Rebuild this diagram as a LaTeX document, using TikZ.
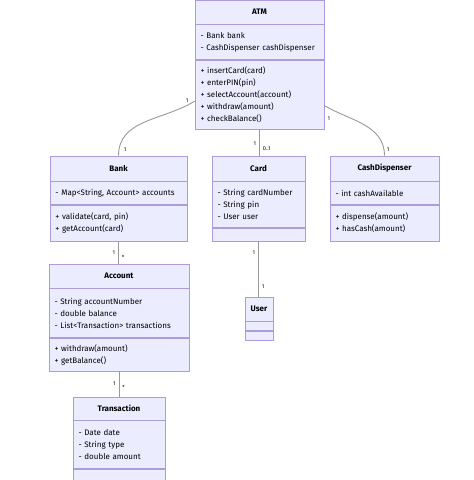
\documentclass[tikz,border=0pt]{standalone}
\usepackage{fontspec}
\setmainfont{Fira Sans}
\usetikzlibrary{positioning}
\definecolor{umlfill}{HTML}{ECECFF}
\definecolor{umlline}{HTML}{AC9CDE}
\definecolor{relline}{HTML}{999999}

\begin{document}
\begin{tikzpicture}[
  x=1pt, y=1pt,
  font=\fontsize{8}{12}\selectfont,
  node distance=0pt,
  cls/.style={draw=umlline, fill=umlfill, line width=0.55pt},
  hdr/.style={cls, font=\fontsize{8}{12}\selectfont\bfseries, inner sep=0pt},
  cmp/.style={cls, align=left, inner xsep=5.5pt, inner ysep=0pt},
  rel/.style={draw=relline, line width=0.9pt},
  mult/.style={font=\fontsize{5.5}{6}\selectfont, inner sep=1pt}
]
  \clip (0,0) rectangle (474,480);
  \fill[white] (0,0) rectangle (474,480);

  % ATM
  \node[hdr, minimum width=129pt, minimum height=24pt] (atm) at (259.5,468) {ATM};
  \node[cmp, text width=118pt, minimum height=35pt, below=of atm] (atm-a) {- Bank bank\\- CashDispenser cashDispenser};
  \node[cmp, text width=118pt, minimum height=69pt, below=of atm-a] (atm-m) {+ insertCard(card)\\+ enterPIN(pin)\\+ selectAccount(account)\\+ withdraw(amount)\\+ checkBalance()};

  % Bank
  \node[hdr, minimum width=137pt, minimum height=25pt] (bank) at (118.5,311.5) {Bank};
  \node[cmp, text width=126pt, minimum height=23pt, below=of bank] (bank-a) {- Map<String, Account> accounts};
  \node[cmp, text width=126pt, minimum height=36pt, below=of bank-a] (bank-m) {+ validate(card, pin)\\+ getAccount(card)};

  % Card
  \node[hdr, minimum width=93pt, minimum height=25pt] (card) at (258.5,311.5) {Card};
  \node[cmp, text width=82pt, minimum height=46pt, below=of card] (card-a) {- String cardNumber\\- String pin\\- User user};
  \node[cmp, text width=82pt, minimum height=13pt, below=of card-a] (card-m) {};

  % CashDispenser
  \node[hdr, minimum width=109pt, minimum height=25pt] (cash) at (384.5,311.5) {CashDispenser};
  \node[cmp, text width=98pt, minimum height=23pt, below=of cash] (cash-a) {- int cashAvailable};
  \node[cmp, text width=98pt, minimum height=36pt, below=of cash-a] (cash-m) {+ dispense(amount)\\+ hasCash(amount)};

  % Account
  \node[hdr, minimum width=140pt, minimum height=24pt] (account) at (119,204) {Account};
  \node[cmp, text width=129pt, minimum height=49pt, below=of account] (account-a) {- String accountNumber\\- double balance\\- List<Transaction> transactions};
  \node[cmp, text width=129pt, minimum height=33pt, below=of account-a] (account-m) {+ withdraw(amount)\\+ getBalance()};

  % User
  \node[hdr, minimum width=28pt, minimum height=24pt] (user) at (259,171) {User};
  \node[cmp, text width=17pt, minimum height=9pt, below=of user] (user-a) {};
  \node[cmp, text width=17pt, minimum height=9pt, below=of user-a] (user-m) {};

  % Transaction
  \node[hdr, minimum width=92pt, minimum height=23pt] (trans) at (119,71.5) {Transaction};
  \node[cmp, text width=81pt, minimum height=48pt, below=of trans] (trans-a) {- Date date\\- String type\\- double amount};
  \node[cmp, text width=81pt, minimum height=24pt, below=of trans-a] (trans-m) {};

  % relations
  \draw[rel] ([yshift=-6.5pt]atm-m.west) to[out=212, in=90]
    node[mult, at start, left=5pt] {1}
    node[mult, at end, above right=3pt and 4pt] {1} (bank.north);
  \draw[rel] ([yshift=-11pt]atm-m.east) to[out=-30, in=90]
    node[mult, at start, below right=10pt and 2pt] {1}
    node[mult, at end, above right=3pt and 1pt] {1} (cash.north);
  \draw[rel] (atm-m.south) -- (atm-m.south |- card.north)
    node[mult, pos=0.55, left=2pt] {1}
    node[mult, pos=0.75, right=2pt] {0..1};
  \draw[rel] (bank-m.south) -- (bank-m.south |- account.north)
    node[mult, pos=0.5, left=2pt] {1}
    node[mult, pos=0.7, right=2pt] {*};
  \draw[rel] (card-m.south) -- (card-m.south |- user.north)
    node[mult, pos=0.2, left=2pt] {1}
    node[mult, pos=0.82, right=2pt] {1};
  \draw[rel] (account-m.south) -- (account-m.south |- trans.north)
    node[mult, pos=0.5, left=2pt] {1}
    node[mult, pos=0.65, right=2pt] {*};
\end{tikzpicture}
\end{document}
